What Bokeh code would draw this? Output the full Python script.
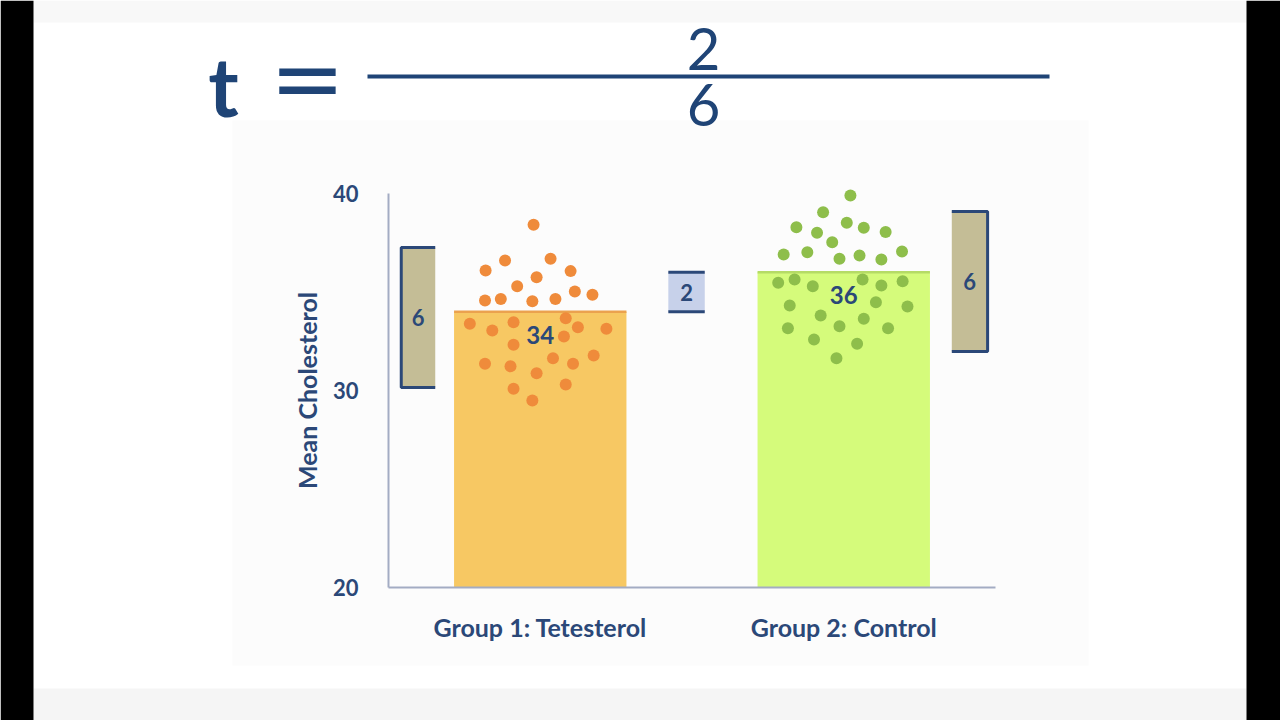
import math
from bokeh.plotting import figure
from bokeh.models import Range1d, FixedTicker, LinearAxis
from bokeh.embed import file_html
from bokeh.resources import INLINE
from bokeh.core.properties import value

# ---------------- data ----------------
groups = ["Group 1: Tetesterol", "Group 2: Control"]
group_pos = [2.5, 7.5]
means = [34, 36]
mean_labels = ["34", "36"]

g1_x = [2.39, 1.92, 2.67, 1.60, 3.00, 2.44, 2.12, 3.07, 3.36, 1.59,
        1.85, 2.37, 2.75, 2.92, 1.34, 1.71, 2.06, 3.12, 3.59, 2.89,
        2.06, 2.71, 3.38, 1.59, 2.01, 3.04, 2.44, 2.06, 2.92, 2.37]
g1_y = [38.41, 36.60, 36.69, 36.09, 36.06, 35.75, 35.29, 35.03, 34.86, 34.57,
        34.65, 34.53, 34.65, 33.67, 33.39, 33.05, 33.47, 33.21, 33.13, 32.74,
        32.32, 31.64, 31.78, 31.36, 31.23, 31.36, 30.88, 30.09, 30.30, 29.49]

g2_x = [7.61, 7.16, 6.72, 7.55, 7.83, 7.06, 8.19, 7.31, 6.51, 6.90,
        7.43, 7.76, 8.12, 8.46, 6.42, 6.69, 6.99, 7.81, 8.12, 8.47,
        6.61, 8.03, 8.55, 7.12, 7.83, 7.43, 6.58, 8.23, 7.01, 7.72, 7.38]
g2_y = [39.90, 39.05, 38.29, 38.51, 38.26, 38.01, 38.04, 37.53, 36.90, 37.02,
        36.69, 36.85, 36.65, 37.06, 35.47, 35.63, 35.29, 35.63, 35.33, 35.55,
        34.31, 34.48, 34.26, 33.81, 33.64, 33.26, 33.16, 33.16, 32.59, 32.37, 31.64]

spread_low = [30.15, 31.98]
spread_high = [37.26, 39.09]
spread_labels = ["6", "6"]
diff_label = "2"
numerator = "2"
denominator = "6"
y_ticks = [20, 30, 40]
y_label = "Mean Cholesterol"

# ---------------- style ----------------
NAVY = "#2B4878"
TITLE_NAVY = "#1F4476"
FONT = "Lato"
bar_colors = ["#F7C863", "#D5FB7B"]
edge_colors = ["#EBA24E", "#B5DB66"]
dot_colors = ["#EF8B3B", "#8EBE4B"]
BAR_W = 2.84

# Plot frame covers the whole canvas; data axes are pinned inside it.
# Chart area: x 0..10 -> px 388..995, y 20..40 -> px 587..193
XS = (995 - 388) / 10.0
YS = (587 - 193) / 20.0
p = figure(width=1280, height=720,
           x_range=Range1d(-388 / XS, (1280 - 388) / XS),
           y_range=Range1d(20 - (720 - 587) / YS, 40 + 193 / YS),
           output_backend="svg", toolbar_location=None,
           x_axis_location=None, y_axis_location=None,
           min_border=0, min_border_left=0, min_border_right=0, min_border_top=0, min_border_bottom=0)
p.grid.visible = False
p.outline_line_color = None
p.background_fill_color = "#FFFFFF"
p.border_fill_color = "#FFFFFF"

# pixel-space range for page decorations
p.extra_x_ranges = {"px": Range1d(0, 1280)}
p.extra_y_ranges = {"px": Range1d(720, 0)}
PX = dict(x_range_name="px", y_range_name="px")

p.quad(left=[33], right=[1246], top=[0], bottom=[22], fill_color="#F8F8F8", line_color=None, **PX)
p.quad(left=[33], right=[1246], top=[688], bottom=[720], fill_color="#F5F5F5", line_color=None, **PX)
p.quad(left=[232], right=[1088], top=[120], bottom=[665], fill_color="#FCFCFC", line_color=None, **PX)

# title: t = 2 / 6
p.text(x=[223], y=[84], text=["t"], text_font=value(FONT), text_font_size="82px", text_font_style="bold",
       text_color=TITLE_NAVY, text_align="center", text_baseline="middle", **PX)
p.text(x=[307], y=[78], text=["="], text_font=value("DejaVu Sans"), text_font_size="90px",
       text_color=TITLE_NAVY, text_align="center", text_baseline="middle", **PX)
p.segment(x0=[367], y0=[76], x1=[1049], y1=[76], line_color=TITLE_NAVY, line_width=4, **PX)
p.text(x=[703, 703], y=[48.5, 104.5], text=[numerator, denominator], text_font=value(FONT),
       text_font_size="58px", text_color=TITLE_NAVY, text_align="center", text_baseline="middle", **PX)

# bars
p.vbar(x=group_pos, top=means, bottom=20, width=BAR_W, fill_color=bar_colors, line_color=None)
p.segment(x0=[g - BAR_W / 2 for g in group_pos], y0=means,
          x1=[g + BAR_W / 2 for g in group_pos], y1=means, line_color=edge_colors, line_width=2.5)

# dots
p.scatter(g1_x, g1_y, size=12, fill_color=dot_colors[0], line_color=None)
p.scatter(g2_x, g2_y, size=12, fill_color=dot_colors[1], line_color=None)

# mean labels
p.text(x=group_pos, y=[m - 1.17 for m in means], text=mean_labels, text_font=value(FONT),
       text_font_size="24px", text_font_style="bold", text_color=NAVY,
       text_align="center", text_baseline="middle")

# spread boxes
spread_x = [(0.21, 0.77), (9.28, 9.87)]
p.quad(left=[a for a, b in spread_x], right=[b for a, b in spread_x],
       bottom=spread_low, top=spread_high, fill_color="#C4BD96", line_color=None)
xs = [[spread_x[0][1], spread_x[0][0], spread_x[0][0], spread_x[0][1]],
      [spread_x[1][0], spread_x[1][1], spread_x[1][1], spread_x[1][0]]]
ys = [[spread_high[0], spread_high[0], spread_low[0], spread_low[0]],
      [spread_high[1], spread_high[1], spread_low[1], spread_low[1]]]
p.multi_line(xs, ys, line_color=NAVY, line_width=3)
p.text(x=[(a + b) / 2 for a, b in spread_x], y=[(lo + hi) / 2 for lo, hi in zip(spread_low, spread_high)],
       text=spread_labels, text_font=value(FONT), text_font_size="22px", text_font_style="bold",
       text_color=NAVY, text_align="center", text_baseline="middle")

# difference box
dx0, dx1 = 4.61, 5.21
p.quad(left=[dx0], right=[dx1], bottom=[means[0]], top=[means[1]], fill_color="#C7D1EA", line_color=None)
p.segment(x0=[dx0, dx0], y0=[means[0], means[1]], x1=[dx1, dx1], y1=[means[0], means[1]],
          line_color=NAVY, line_width=3)
p.text(x=[(dx0 + dx1) / 2], y=[(means[0] + means[1]) / 2], text=[diff_label], text_font=value(FONT),
       text_font_size="22px", text_font_style="bold", text_color=NAVY,
       text_align="center", text_baseline="middle")

# y axis title (rotated), centred on the 20..40 scale
p.text(x=[-82 / XS], y=[30], text=[y_label], angle=math.pi / 2, text_font=value(FONT),
       text_font_size="25px", text_font_style="bold", text_color=NAVY,
       text_align="center", text_baseline="middle")

# axes pinned at x=0 and y=20
xaxis = LinearAxis(fixed_location=20, bounds=(0, 10), ticker=FixedTicker(ticks=group_pos),
                   major_label_overrides={pos: name for pos, name in zip(group_pos, groups)})
yaxis = LinearAxis(fixed_location=0, bounds=(20, 40), ticker=FixedTicker(ticks=y_ticks))
for ax in (xaxis, yaxis):
    ax.axis_line_color = "#A3ACC3"
    ax.axis_line_width = 2
    ax.major_tick_line_color = None
    ax.minor_tick_line_color = None
    ax.major_label_text_font = FONT
    ax.major_label_text_font_style = "bold"
    ax.major_label_text_color = NAVY
xaxis.major_label_text_font_size = "25px"
xaxis.major_label_standoff = 18
yaxis.major_label_text_font_size = "22px"
yaxis.major_label_standoff = 24
p.add_layout(xaxis, "below")
p.add_layout(yaxis, "left")

# black side bars
p.quad(left=[0, 1246], right=[33, 1280], top=[0, 0], bottom=[720, 720],
       fill_color="#000000", line_color=None, **PX)

open("out.html", "w").write(file_html(p, INLINE))
